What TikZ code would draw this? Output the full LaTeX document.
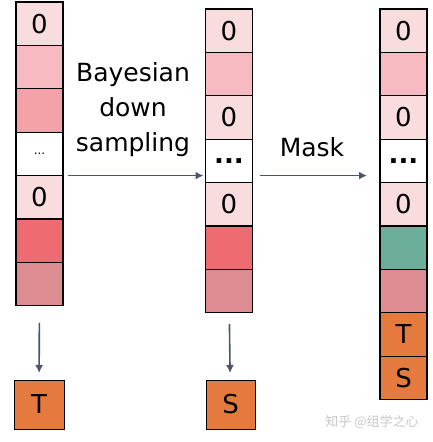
\documentclass[tikz,border=0pt]{standalone}
\usepackage{fontspec}
\setmainfont{DejaVu Sans}
\newfontfamily\cjkfont{Noto Sans CJK SC}
\usepackage{tikz}
\usetikzlibrary{calc,arrows.meta}

\definecolor{zeropink}{HTML}{F9DCDD}
\definecolor{lightrose}{HTML}{F7BAC0}
\definecolor{midrose}{HTML}{F4A1A8}
\definecolor{hotred}{HTML}{EE6C71}
\definecolor{dustyrose}{HTML}{DD8C92}
\definecolor{tealgreen}{HTML}{6BAE9C}
\definecolor{tokenorange}{HTML}{E57A3E}
\definecolor{slate}{HTML}{4A5568}

\tikzset{
  cell/.style = {draw, line width=1.3pt, minimum width=47pt, minimum height=43.4pt, inner sep=0pt, outer sep=0pt, font=\fontsize{26}{26}\selectfont},
  flow/.style = {draw=slate, line width=1.6pt, -{Latex[length=8pt,width=8pt]}},
}

\begin{document}
\begin{tikzpicture}[x=1pt,y=-1pt]
            \useasboundingbox (0,0) rectangle (433,442);
            % input sequence
            \node at (39.5,23.7) [cell, fill=zeropink] (c1a) {0};
            \node at (39.5,67.1) [cell, fill=lightrose] (c1b) {};
            \node at (39.5,110.5) [cell, fill=midrose] (c1c) {};
            \node at (39.5,153.9) [cell, fill=white, font=\fontsize{12}{12}\selectfont] (c1d) {...};
            \node at (39.5,197.3) [cell, fill=zeropink] (c1e) {0};
            \node at (39.5,240.7) [cell, fill=hotred] (c1f) {};
            \node at (39.5,284.1) [cell, fill=dustyrose] (c1g) {};
            \node at (39,404.5) [cell, fill=tokenorange, minimum width=50pt, minimum height=49pt, line width=1pt] (t1) {T};
            % down sampled sequence
            \node at (229,30.7) [cell, fill=zeropink] (c2a) {0};
            \node at (229,74.1) [cell, fill=lightrose] (c2b) {};
            \node at (229,117.5) [cell, fill=zeropink] (c2c) {0};
            \node at (229,160.9) [cell, fill=white] (c2d) {\textbf{...}};
            \node at (229,204.3) [cell, fill=zeropink] (c2e) {0};
            \node at (229,247.7) [cell, fill=hotred] (c2f) {};
            \node at (229,291.1) [cell, fill=dustyrose] (c2g) {};
            \node at (230.5,404.5) [cell, fill=tokenorange, minimum width=49pt, minimum height=49pt, line width=1pt] (s2) {S};
            % masked sequence
            \node at (403.5,30.7) [cell, fill=zeropink] (c3a) {0};
            \node at (403.5,74.1) [cell, fill=lightrose] (c3b) {};
            \node at (403.5,117.5) [cell, fill=zeropink] (c3c) {0};
            \node at (403.5,160.9) [cell, fill=white] (c3d) {\textbf{...}};
            \node at (403.5,204.3) [cell, fill=zeropink] (c3e) {0};
            \node at (403.5,247.7) [cell, fill=tealgreen] (c3f) {};
            \node at (403.5,291.1) [cell, fill=dustyrose] (c3g) {};
            \node at (403.5,334.5) [cell, fill=tokenorange] (c3h) {T};
            \node at (403.5,377.9) [cell, fill=tokenorange] (c3i) {S};
            % arrows
            \draw[flow, shorten <=17pt, shorten >=7pt] (c1g) -- (t1);
            \draw[flow, shorten <=11pt, shorten >=7pt] (c2g) -- (s2);
            \draw[flow, shorten <=5pt, shorten >=2pt] (c1d.south east) -- (c1d.south east -| c2d.west);
            \draw[flow, shorten <=7pt, shorten >=13pt] (c2d.east |- c1d.south) -- (c3d.west |- c1d.south);
            % labels
            \node at (133,110) [align=center, font=\fontsize{25}{35}\selectfont] (bds) {Bayesian\\down\\sampling};
            \node at (312,147) [font=\fontsize{25}{25}\selectfont] (mask) {Mask};
            \node at (372,422) [text=black!22, font=\cjkfont\fontsize{13}{13}\selectfont] (wm) {知乎 @组学之心};
\end{tikzpicture}
\end{document}
